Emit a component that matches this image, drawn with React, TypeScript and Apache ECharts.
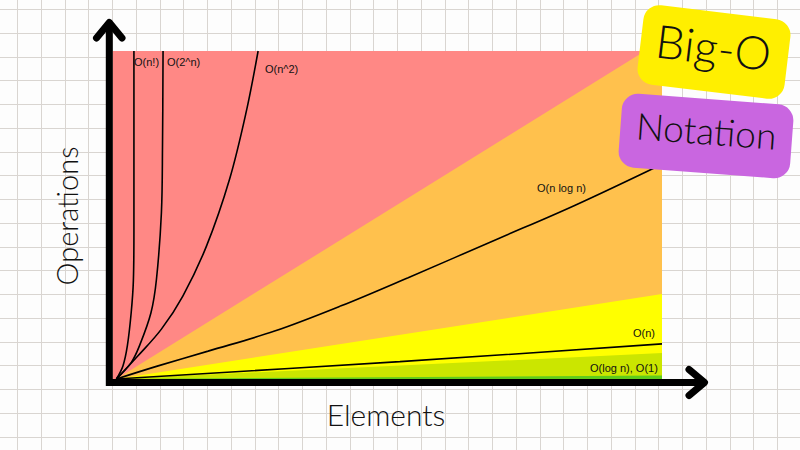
import React, { useEffect, useRef } from "react";
import * as echarts from "echarts";

// Region boundaries (x: elements 0..100, y: operations 0..100)
const redRegion = [[0, 100], [100, 100]];
const orangeBoundary = [[0.7, 0], [96.9, 100], [100, 100]];
const yellowBoundary = [[0.7, 0], [100, 25.9]];
const yellowGreenBoundary = [[0.7, 0], [100, 7.9]];
const greenBoundary = [[0.7, 0], [100, 1.1]];

// Complexity curves
const factorialCurve = [[0.7, 0], [1.9, 4.0], [2.7, 10.1], [3.4, 20.2], [3.8, 30], [3.9, 45], [3.9, 100]];
const exponentialCurve = [[0.7, 0], [3.4, 5.0], [4.9, 10.1], [7.0, 20.2], [8.0, 30.4], [8.9, 50.7], [9.1, 71.0], [9.2, 100]];
const quadraticCurve = [[0.7, 0], [4.6, 7.0], [8.9, 15.2], [12.8, 25.3], [17.1, 40.5], [21.3, 60.9], [24.3, 81.2], [26.5, 100]];
const nLogNCurve = [[0.7, 0], [8.3, 4.0], [17.4, 8.5], [29.5, 14.6], [41.6, 22.3], [53.8, 30.9], [70.5, 43.0], [84.2, 53.0], [100, 65.5]];
const linearCurve = [[0.7, 0], [52.3, 5.3], [100, 10.7]];

const curveLabels = ["O(n!)", "O(2^n)", "O(n^2)", "O(n log n)", "O(n)", "O(log n), O(1)"];
const titleWords = ["Big-O", "Notation"];
const axisNames = ["Operations", "Elements"];

export default function App() {
  const ref = useRef<HTMLDivElement>(null);
  useEffect(() => {
    if (!ref.current) return;
    const chart = echarts.init(ref.current, null, { renderer: "svg" });

    const gridLines: any[] = [];
    for (let k = -1; k <= 33; k++) {
      const x = Math.round(17 + k * 23.75) + 0.5;
      gridLines.push({ type: "line", shape: { x1: x, y1: 0, x2: x, y2: 450 }, style: { stroke: "#d9d5d1", lineWidth: 1 }, silent: true });
    }
    for (let k = 0; k <= 19; k++) {
      const y = Math.round(9 + k * 23.75) + 0.5;
      gridLines.push({ type: "line", shape: { x1: 0, y1: y, x2: 800, y2: y }, style: { stroke: "#d9d5d1", lineWidth: 1 }, silent: true });
    }

    const area = (name: string, data: number[][], color: string) => ({
      name, type: "line", data, symbol: "none", silent: true,
      lineStyle: { width: 0 }, areaStyle: { color, opacity: 1 }, z: 1,
    });
    const curve = (name: string, data: number[][]) => ({
      name, type: "line", data, symbol: "none", silent: true, smooth: 0.35,
      lineStyle: { color: "#000", width: 1.6 }, z: 3,
    });

    const label = (text: string, x: number, y: number) => ({
      type: "text", z: 50,
      style: {
        text, x, y, fill: "#111", fontSize: 11, fontFamily: "Liberation Sans, Arial, sans-serif",
        textAlign: "left", align: "left", textVerticalAlign: "middle", verticalAlign: "middle",
      },
    });

    const bigText = (text: string, x: number, y: number, size: number, rotation = 0) => ({
      type: "text", x, y, rotation, z: 120,
      style: {
        text, x: 0, y: 0, fill: "#111", fontSize: size, fontWeight: 300, fontFamily: "Lato, 'Noto Sans', sans-serif",
        textAlign: "center", align: "center", textVerticalAlign: "middle", verticalAlign: "middle",
      },
    });

    chart.setOption({
      animation: false,
      backgroundColor: "#fdfdfd",
      grid: { left: 112.5, top: 51, right: 138, bottom: 71 },
      xAxis: { type: "value", min: 0, max: 100, show: false },
      yAxis: { type: "value", min: 0, max: 100, show: false },
      series: [
        area("red", redRegion, "#ff8885"),
        area("orange", orangeBoundary, "#ffc14d"),
        area("yellow", yellowBoundary, "#ffff00"),
        area("yellowgreen", yellowGreenBoundary, "#cbe600"),
        area("green", greenBoundary, "#5fcc1b"),
        curve(curveLabels[0], factorialCurve),
        curve(curveLabels[1], exponentialCurve),
        curve(curveLabels[2], quadraticCurve),
        curve(curveLabels[3], nLogNCurve),
        curve(curveLabels[4], linearCurve),
      ],
      graphic: {
        elements: [
          { type: "group", z: -10, children: gridLines, silent: true },
          label(curveLabels[0], 134, 62),
          label(curveLabels[1], 167, 62),
          label(curveLabels[2], 265, 69),
          label(curveLabels[3], 537, 188),
          label(curveLabels[4], 633, 333),
          label(curveLabels[5], 590, 368),
          // axes
          { type: "line", z: 100, shape: { x1: 109.3, y1: 386, x2: 109.3, y2: 24 }, style: { stroke: "#000", lineWidth: 7, lineCap: "butt" } },
          { type: "polyline", z: 100, shape: { points: [[96.5, 38], [109.3, 22.5], [122, 38]] }, style: { stroke: "#000", fill: null, lineWidth: 7, lineCap: "round", lineJoin: "round" } },
          { type: "line", z: 100, shape: { x1: 106, y1: 382.5, x2: 703, y2: 382.5 }, style: { stroke: "#000", lineWidth: 7, lineCap: "butt" } },
          { type: "polyline", z: 100, shape: { points: [[689, 369.5], [704.5, 382.5], [689, 395.5]] }, style: { stroke: "#000", fill: null, lineWidth: 7, lineCap: "round", lineJoin: "round" } },
          bigText(axisNames[0], 66, 216, 29, Math.PI / 2),
          bigText(axisNames[1], 386, 414, 30),
          // sticky notes
          {
            type: "group", x: 714, y: 52, rotation: -0.12, z: 110,
            children: [
              { type: "rect", z: 110, shape: { x: -74, y: -40, width: 148, height: 80, r: 16 }, style: { fill: "#ffef00" } },
              bigText(titleWords[0], -1, -5, 46),
            ],
          },
          {
            type: "group", x: 706, y: 136, rotation: -0.075, z: 115,
            children: [
              { type: "rect", z: 115, shape: { x: -86, y: -37, width: 172, height: 74, r: 16 }, style: { fill: "#c966e0" } },
              { ...bigText(titleWords[1], 0, -6, 37), z: 125 },
            ],
          },
        ],
      },
    });
    return () => chart.dispose();
  }, []);
  return <div ref={ref} style={{ position: "fixed", left: 0, top: 0, width: 800, height: 450 }} />;
}
